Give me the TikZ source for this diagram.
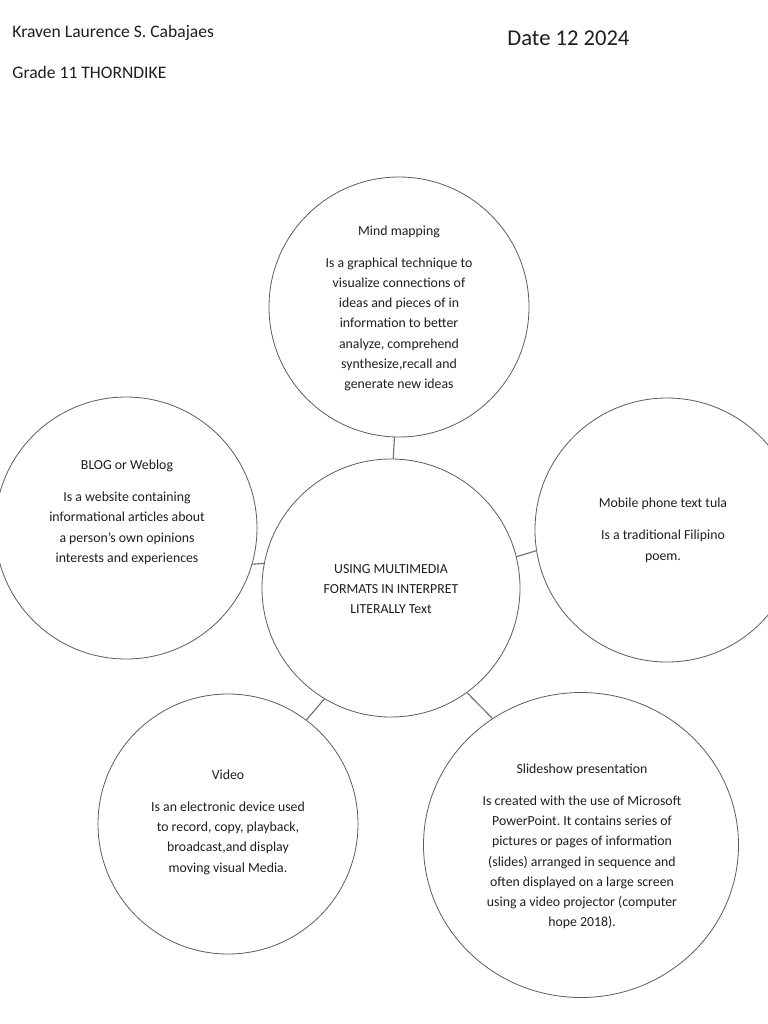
\documentclass[tikz,border=0pt]{standalone}
\usepackage{fontspec}
\setmainfont{Carlito}
\usepackage{xcolor}
\usepackage{tikz}
\usetikzlibrary{shapes.geometric}
\frenchspacing
\definecolor{mmInk}{HTML}{1E1E1E}
\definecolor{mmLine}{HTML}{5E5E5E}
\definecolor{mmLink}{HTML}{707070}
\tikzset{
  mm diagram/.style={x=0.797pt, y=-0.797pt, text=mmInk,
    line cap=round, line join=round},
  mm bubble/.style={circle, draw=mmLine, line width=0.65pt, inner sep=0pt},
  mm text/.style={align=center, font=\fontsize{11}{16}\selectfont},
  mm link/.style={draw=mmLink, line width=0.9pt},
  mm head/.style={anchor=west, font=\fontsize{14}{16}\selectfont}
}
\begin{document}
\begin{tikzpicture}[mm diagram]
\useasboundingbox (0,0) rectangle (768,1024);
\node[mm head] (name) at (8,33) {Kraven Laurence S. Cabajaes};
\node[mm head] (grade) at (8,72) {Grade 11 THORNDIKE};
\node[mm head,font=\fontsize{18}{20}\selectfont] (date) at (503,38) {Date 12 2024};
% circles
\node[mm bubble,minimum size=258*0.797pt] (hub) at (391,588) {};
\node[mm bubble,minimum size=260*0.797pt] (mind) at (399,307) {};
\node[mm bubble,minimum size=262*0.797pt] (blog) at (126,528) {};
\node[mm bubble,minimum size=264*0.797pt] (mobile) at (667,530) {};
\node[mm bubble,minimum size=260*0.797pt] (video) at (228,824) {};
\node[mm bubble,ellipse,minimum width=315*0.797pt,minimum height=305*0.797pt] (slide) at (581,845) {};
% texts
\node[mm text] (hub text) at (391,589) {USING MULTIMEDIA\\FORMATS IN INTERPRET\\LITERALLY Text};
\node[mm text] (mind text) at (399,308) {Mind mapping\\[10pt]Is a graphical technique to\\visualize connections of\\ideas and pieces of in\\information to better\\analyze, comprehend\\synthesize,recall and\\generate new ideas};
\node[mm text] (blog text) at (127,512) {BLOG or Weblog\\[10pt]Is a website containing\\informational articles about\\a person's own opinions\\interests and experiences};
\node[mm text] (mobile text) at (663,530) {Mobile phone text tula\\[10pt]Is a traditional Filipino\\poem.};
\node[mm text] (video text) at (228,822) {Video\\[10pt]Is an electronic device used\\to record, copy, playback,\\broadcast,and display\\moving visual Media.};
\node[mm text] (slide text) at (582,846) {Slideshow presentation\\[10pt]Is created with the use of Microsoft\\PowerPoint. It contains series of\\pictures or pages of information\\(slides) arranged in sequence and\\often displayed on a large screen\\using a video projector (computer\\hope 2018).};
% links
\draw[mm link] (mind.268) -- (hub.89);
\draw[mm link] (blog.-16) -- (hub.169);
\draw[mm link] (hub.14) -- (mobile.189);
\draw[mm link] (hub.239) -- (video.53);
\draw[mm link] (hub.306) -- (slide.125);
\end{tikzpicture}
\end{document}
